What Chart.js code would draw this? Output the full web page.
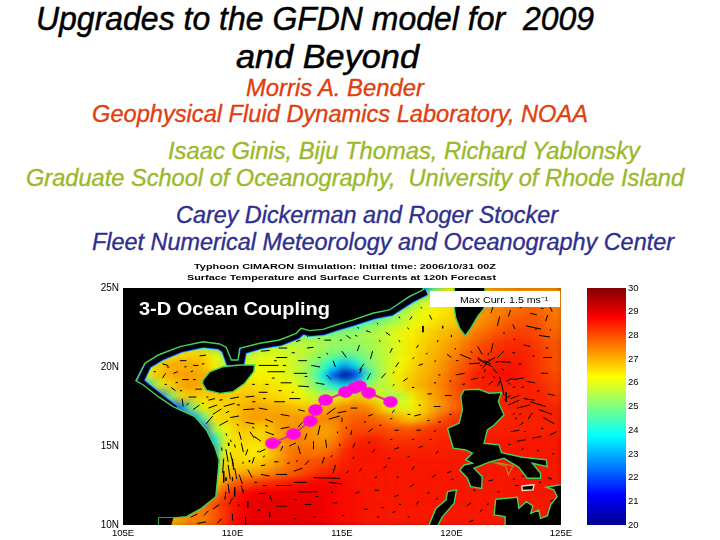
<!DOCTYPE html>
<html><head><meta charset="utf-8">
<script src="https://cdn.jsdelivr.net/npm/chart.js@4"></script>
<style>
html,body{margin:0;padding:0;background:#fff;width:720px;height:540px;overflow:hidden}
canvas{position:absolute}
.t{position:absolute;white-space:pre;line-height:1;transform-origin:0 0;font-family:"Liberation Sans",Arial,sans-serif}
#box{position:absolute;left:430px;top:291px;width:130px;height:16px;background:#fff}
</style></head><body>
<canvas id="map" width="490" height="270" style="left:85px;top:270px;width:490px;height:270px"></canvas>
<canvas id="bar" width="80" height="270" style="left:577px;top:270px;width:80px;height:270px"></canvas>
<div id="box"></div>
<script>
// text: [string, left, right, baseline, font px, weight, style, colour, stroke]
const slideText = [
 ["Upgrades to the GFDN model for  2009",36,594,30,34,"400","italic","#000",.5],
 ["and Beyond",236,419,68,34,"400","italic","#000",.5],
 ["Morris A. Bender",246,424,97,23.5,"400","italic","#e0400f",.35],
 ["Geophysical Fluid Dynamics Laboratory, NOAA",92,588,123,23.5,"400","italic","#e0400f",.35],
 ["Isaac Ginis, Biju Thomas, Richard Yablonsky",168,640,160,23.5,"400","italic","#9ab92a",.35],
 ["Graduate School of Oceanography,  University of Rhode Island",26,684,187,23.5,"400","italic","#9ab92a",.35],
 ["Carey Dickerman and Roger Stocker",176,558,224,23.5,"400","italic","#2f2f8f",.35],
 ["Fleet Numerical Meteorology and Oceanography Center",92,674,251,23.5,"400","italic","#2f2f8f",.35],
 ["Typhoon CIMARON Simulation: Initial time: 2006/10/31 00Z",194,496,270,8,"700","normal","#000",0],
 ["Surface Temperature and Surface Currents at 120h Forecast",187,496,281,8,"700","normal","#000",0],
 ["3-D Ocean Coupling",139,330,315,19,"700","normal","#fff",0],
 ["Max Curr. 1.5 ms\u207B\u00B9",460,548,304,9,"400","normal","#000",0]
];
const lonTicks=[105,110,115,120,125];
const latTicks=[10,15,20,25];
const tempTicks=[20,21,22,23,24,25,26,27,28,29,30];

// sea surface temperature, north to south, 0.5 deg columns from 105E
const sst00=[22,22,22,22,22,22,22,22,22,22,22,22,22,22,22,22,22,22,22,22,22,22,22,22,22,22,22,22.5,24.5,25.8,26.2,26.5,26.8,27,27.1,27.2,27.3,27.3,27.3,27.3];
const sst01=[22,22,22,22,22,22,22,22,22,22,22,22,22,22,22,22,22,22,22,22,22,22,22,22,22,22.5,24.5,25.6,26,26.3,26.4,26.8,27.1,27.3,27.4,27.5,27.6,27.6,27.5,27.4];
const sst02=[22,22,22,22,22,22,22,22,22,22,22,22,22,22,22,22,22,22,22,22,22,22,22,23,24.5,25.3,25.8,26.1,26.3,26.4,26.6,26.8,27.1,27.3,27.4,27.6,27.7,27.8,27.7,27.5];
const sst03=[22,22,22,22,22,22,22,22,22,22,22,22,22,22,22,22,22,22,22,22.5,23.5,24,24.6,25,25.3,25.6,26,26.2,26.4,26.6,26.7,26.9,27.2,27.4,27.6,27.8,27.9,27.9,27.8,27.6];
const sst04=[22,22,22,22,22,22,22,22,22,22,22,22,22,22,22,23.5,24.3,24.8,25,25,25.2,25.3,25.5,25.6,25.9,26.1,26.3,26.5,26.7,26.8,27,27.2,27.5,27.7,27.9,28,28.1,28,27.9,27.7];
const sst05=[22,22,22,22,25,25.5,25.5,24.5,23.5,22.5,22.5,23,24.5,25.1,25.5,25.7,25.7,25.6,25.5,25.3,25.3,25.3,25.4,25.6,25.8,26,26.4,26.6,26.8,27,27.2,27.5,27.8,28,28.2,28.3,28.3,28.2,28,27.9];
const sst06=[22,22,22,25,26.4,26.6,26.6,26.6,26.3,25.3,24.5,25.5,25.9,26,25.9,25.8,25.7,25.5,25.2,25,24.9,25,25.2,25.5,25.8,26.1,26.4,26.7,26.9,27.1,27.4,27.7,28,28.2,28.3,28.4,28.4,28.3,28.1,27.9];
const sst07=[22,22.5,25.5,26.7,27,27,27,26.8,26.3,25.7,25.6,25.9,26.1,26.2,26.1,25.9,25.6,25.1,24.6,23.8,23,23.9,25,25.4,25.8,26.2,26.5,26.8,27,27.3,27.6,27.9,28.2,28.4,28.5,28.5,28.5,28.3,28.1,27.9];
const sst08=[22,24.5,26.3,26.8,27,27.1,27.1,27,26.8,26.5,26.2,26.2,26.2,26.3,26.1,25.9,25.6,25,23.8,22,20,21.8,24,25.3,25.9,26.4,26.7,26.9,27.1,27.4,27.8,28.1,28.4,28.5,28.6,28.6,28.5,28.3,28.2,28];
const sst09=[22,22,23.5,26,26.6,27,27.2,26.9,26.8,26.7,26.6,26.6,26.5,26.5,26.4,26.2,25.9,25.3,24.6,24.1,23.5,24.4,25.3,25.6,25.7,26.4,26.8,27,27.2,27.5,27.9,28.2,28.4,28.4,28.4,28.4,28.4,28.4,28.3,28.1];
const sst10=[22,22,22,22,24.8,26.5,26.7,26.6,26.7,26.7,26.7,26.8,26.8,26.6,26.5,26.4,26.2,25.9,25.6,26,26.4,26.8,26.6,26,25.3,25.5,26.1,26.7,27.1,27.4,27.8,28.1,28.4,28.4,28.4,28.4,28.4,28.4,28.4,28.2];
const sst11=[22,22,22,22,22,22.5,25,26.3,26.6,26.6,26.7,27,27.1,27,27,26.9,26.8,26.7,26.9,27.2,27.4,27.5,27.4,26.9,26.2,26,26.1,26.6,27,27.3,27.7,28,28.3,28.4,28.4,28.4,28.4,28.4,28.4,28.4];
const sst12=[22,22,22,22,22,22,22.5,24.5,26.4,26.6,26.8,27.1,27.2,27.1,27.2,27.2,27.2,27.3,27.4,27.5,27.6,27.8,27.8,27.6,27.4,27,26.6,26.9,27.4,27.9,28.2,28.3,28.4,28.4,28.4,28.4,28.4,28.4,28.4,28.4];
const sst13=[22,22,22,22,22,22,22,22,25.5,26.2,26.6,26.8,26.6,26.7,27.1,27.3,27.3,27.2,27.1,27.2,27.8,28,28,28,27.9,27.9,27.9,28.1,28.2,28.3,28.4,28.4,28.4,28.4,28.4,28.4,28.4,28.4,28.4,28.4];
const sst14=[22,22,22,22,22,22,22,22,23.5,26,26.5,26.6,26.5,26.7,27.1,27.4,27.4,27.3,27.2,27.4,28,28.3,28.4,28.4,28.2,28.2,28.2,28.3,28.3,28.4,28.4,28.4,28.5,28.5,28.5,28.5,28.5,28.5,28.5,28.5];
const sst15=[22,22,22,22,22,22,22,22,23,26.2,26.5,26.4,26.3,26.6,27.1,27.5,27.6,27.5,27.5,27.8,28.3,28.5,28.5,28.5,28.4,28.4,28.4,28.4,28.4,28.4,28.4,28.5,28.5,28.5,28.5,28.5,28.5,28.5,28.5,28.5];
const sst16=[22,22,22,22,22,22,22,22,24,26.6,26.6,26.5,26.6,26.9,27.2,27.6,27.8,27.9,28,28.2,28.4,28.5,28.5,28.5,28.5,28.5,28.5,28.5,28.5,28.5,28.5,28.5,28.5,28.5,28.5,28.5,28.5,28.5,28.5,28.5];
const sst17=[22,22,22,22,22,22,22,22,25,26.8,26.9,27,27.1,27.3,27.5,27.7,27.9,28.1,28.3,28.4,28.5,28.5,28.5,28.5,28.5,28.5,28.5,28.5,28.5,28.5,28.5,28.5,28.5,28.5,28.5,28.5,28.5,28.5,28.5,28.5];
const sst18=[22,22,22,22,22,22,22,24,26,27.4,27.8,28,28.2,28.3,28.4,28.5,28.6,28.7,28.7,28.7,28.6,28.5,28.5,28.5,28.5,28.5,28.5,28.5,28.5,28.5,28.5,28.5,28.5,28.5,28.5,28.5,28.5,28.5,28.5,28.5];
const sst19=[22,22,22,22,22,22,24,26,27.5,28,28.5,28.7,28.8,28.8,28.8,28.8,28.8,28.8,28.8,28.7,28.6,28.6,28.5,28.5,28.5,28.5,28.5,28.5,28.5,28.5,28.5,28.5,28.5,28.5,28.5,28.5,28.5,28.5,28.5,28.5];
const sst20=[22,22,22,22,24,26,27,27.6,27.9,28.3,28.6,28.8,28.9,28.9,28.9,28.9,28.9,28.9,28.8,28.7,28.6,28.6,28.5,28.5,28.5,28.5,28.5,28.5,28.5,28.5,28.5,28.5,28.5,28.5,28.5,28.5,28.5,28.5,28.5,28.5];
const sst21=[22,22,22,24,27,27.2,27.5,27.5,27.8,28.2,28.6,28.8,28.9,28.9,28.9,28.9,28.9,28.9,28.8,28.7,28.6,28.6,28.5,28.5,28.5,28.5,28.5,28.5,28.5,28.5,28.5,28.5,28.5,28.5,28.5,28.5,28.5,28.5,28.5,28.5];
const sstRows=[sst00,sst01,sst02,sst03,sst04,sst05,sst06,sst07,sst08,sst09,sst10,sst11,sst12,sst13,sst14,sst15,sst16,sst17,sst18,sst19,sst20,sst21];

// land outlines, [lon, lat]
const coastMain=[[104,9.5],[106.64,9.5],[106.64,10.45],[107.3,10.45],[107.9,10.53],[108.58,11.05],[109.24,11.79],[109.34,13.27],[109.39,14.11],[109.19,14.96],[108.81,16.01],[108.28,16.86],[107.29,17.49],[106.61,18.12],[105.93,18.86],[105.59,19.13],[106,20.23],[106.61,20.76],[107.6,21.29],[108.66,21.6],[109.42,21.46],[109.72,21.24],[109.95,20.44],[110.25,20.44],[110.33,21.18],[111.24,21.5],[112.15,21.71],[112.91,22.13],[113.14,22.45],[113.52,22.3],[114.13,22.38],[114.73,22.66],[115.49,22.97],[116.4,23.4],[117.16,23.61],[118.07,24.45],[118.68,24.87],[118.95,25.5],[118.95,26],[104,26],[104,9.5]];
const coastCorner=[[106.64,9.5],[106.64,10.45],[107.3,10.45],[107.1,9.5],[106.64,9.5]];
const hainan=[[108.66,19.18],[108.96,19.7],[109.57,20.02],[110.33,20.13],[111.01,20.13],[110.97,19.7],[110.56,18.97],[110.03,18.44],[109.42,18.33],[108.81,18.54],[108.63,18.97],[108.66,19.18]];
const taiwan=[[120.13,25.5],[121.55,25.5],[121.49,23.71],[121.19,23.18],[120.88,22.44],[120.63,21.96],[120.38,22.44],[120.2,23.08],[120.13,23.71],[120.13,25.5]];
const luzon=[[120.58,18.55],[121.26,18.59],[121.72,18.34],[122.29,18.38],[122.14,17.81],[122.4,16.96],[121.95,16.33],[121.64,16.02],[121.49,15.17],[122.17,15.07],[122.29,14.58],[123.24,14.29],[124.33,14.12],[124.38,13.69],[123.69,13.91],[124.07,13.27],[124.07,12.96],[123.46,12.96],[123.08,13.65],[122.4,14.22],[121.79,14.01],[121.41,13.8],[121.03,13.59],[121.41,13.06],[121.38,12.32],[120.88,12.43],[120.73,12.96],[120.38,13.48],[120.58,13.8],[120.96,13.91],[120.65,14.12],[120.96,14.54],[120.65,14.75],[120.08,14.86],[119.82,16.12],[120.35,16.44],[120.5,17.28],[120.43,18.13],[120.58,18.55]];
const islet=[[123.21,12.47],[123.77,12.54],[123.72,12.22],[123.24,12.18],[123.21,12.47]];
const palawan=[[118.83,9.5],[119.29,11.05],[119.75,11.58],[119.82,12.11],[120.23,12.22],[120.12,11.37],[119.59,10.53],[119.21,9.5],[118.83,9.5]];
const visayas=[[122.02,11.63],[123.01,11.75],[123.08,11.06],[123.42,11.48],[123.72,11.21],[123.62,10.74],[123.99,10.95],[124.07,10.42],[124.38,10.57],[124.53,11.27],[124.83,11.8],[124.68,12.22],[124.33,12.39],[124.94,12.54],[125.6,12.54],[125.6,9.5],[122.48,9.5],[122.45,10.53],[121.95,10.64],[122.02,11.63]];
const olive=[[121.79,14.01],[122.48,13.74],[122.6,13.17],[122.81,13.74],[122.1,13.95]];
const coastFringe=[[107.4,17.35],[106.8,17.98],[106.1,18.75],[105.8,19.1],[106.15,20.12],[106.75,20.62],[107.65,21.14],[108.65,21.44],[109.4,21.32],[109.65,21.08],[109.85,20.3],[110.4,20.3],[110.5,21.04],[111.3,21.36],[112.2,21.56],[112.95,21.97],[113.2,22.28],[113.55,22.15],[114.15,22.23],[114.75,22.5],[115.5,22.81],[116.45,23.24],[117.25,23.45],[118.2,24.3],[118.85,24.75]];

// storm track
const trackLon=[111.82,112.79,113.55,113.79,114.25,115.16,115.57,115.8,116.22,117.22];
const trackLat=[15.17,15.76,16.58,17.28,17.91,18.42,18.67,18.8,18.37,17.8];

// current vectors: lon, lat, dlon, dlat
const currents=[
[106.8,20.2,.25,-.1],[107.6,20.4,.3,0],[108.5,20.7,.3,.05],[108.2,20.1,.25,0],[107.3,19.6,.2,.1],[106.8,19.3,.15,.3],[107.7,19.2,.3,0],[108.3,18.6,.3,0],[107.2,18.7,.2,-.2],[108,18.1,.35,0],[108.9,17.9,.3,.1],[107.7,18,.05,-.5],[108.9,17.4,.4,.2],[108.2,17.3,.3,.3],[109.6,17.5,.5,.2],[109.1,17,.4,.35],[108.8,16.4,.3,.5],[109.4,16.3,.4,.3],[109.9,16.8,.4,.1],[110.5,17.3,.5,.05],[110.6,16.5,.4,-.1],[109.9,18,.4,.1],[110.6,18.1,.4,.05],[111.2,18.4,.4,0],[111.6,19.7,.8,0],[111.2,20.1,.9,0],[112,20.6,.5,0],[111.3,21,.4,.05],[112.1,21.2,.4,0],[112.9,21.6,.2,.1],[113.4,21.2,.3,.05],[113,20.4,.4,0],[113.6,20.1,.4,-.1],[112.8,19.6,.6,0],[112.2,19,.5,0],[113,18.8,.5,-.05],[113.8,19,.4,-.1],[114.3,19.5,.2,-.3],[114.6,20.4,.1,-.4],[115,21,.2,-.4],[115.8,21.4,-.1,-.4],[116.4,21,-.1,-.5],[116,20.2,-.2,-.4],[116.3,19.6,-.15,-.4],[115.9,19.9,-.1,-.3],[114.2,21.7,.3,0],[115.2,22,.2,-.2],[116.1,22.3,.2,-.1],[117,22.2,.2,-.2],[117.3,21.2,-.1,-.3],[117.6,20.3,-.15,-.3],[117,19.6,-.2,-.3],[118,19.3,-.2,-.2],[118.7,20.2,-.2,-.1],[118.5,21.4,-.1,-.2],[118.7,22.6,0,-.4],[119,23.3,.1,-.3],[118.2,23.2,-.1,-.2],
[111.2,17.4,.4,-.1],[111.9,17.8,.5,0],[112.6,18,.5,0],[113,17.3,.3,-.1],[112.2,17,.4,-.1],[111.5,16.7,.35,-.2],[110.8,15.9,.2,-.4],[110.3,15.9,.1,-.5],[110.4,15.2,.1,-.6],[111,15.6,.3,-.3],[111.5,15.9,.4,-.2],[112.2,16.1,.4,.1],[113,16.2,.2,.3],[113.3,15.4,.1,.4],[113.9,15.7,.1,.6],[113.7,14.8,0,.5],[114.3,14.9,-.05,.5],[113.1,14.5,-.1,.5],[112.6,15,.3,.2],[112.2,14.7,.1,.3],[111.5,14.8,-.3,-.2],[111.9,14,.2,0],[111.5,13.8,-.2,-.05],[111,14.3,-.1,-.4],[110.7,14.8,-.1,-.4],[110.7,13.5,.2,-.5],[111.3,13.2,.4,-.1],[112,13.2,.5,0],[112.8,13.4,.4,.2],[113.3,13.8,.2,.3],[114.1,13.9,.1,.4],[114.6,13.3,.1,.5],
[109.7,14.8,.1,-.8],[109.9,14.6,.15,-.9],[109.6,14.2,-.05,-.9],[110,14.2,.05,-.7],[109.8,13.8,.1,-.9],[110.1,13.6,.1,-.7],[109.6,13.4,0,-.7],[110.3,13.2,.15,-.6],[109.8,12.6,.05,-.6],[110.1,12.4,0,-.6],[110.4,12.5,.1,-.5],[109.7,12.1,-.05,-.5],[110,11.7,-.15,-.4],[109.4,11.3,-.3,-.3],[108.9,10.9,-.2,-.3],[108.4,10.7,-.3,-.2],[108.8,10.2,-.4,-.1],[109.5,10.4,-.2,-.3],[110,10.7,0,-.4],[110.6,10.5,0,-.5],[110.7,11.5,0,-.4],[111.2,12,.3,0],[111.7,11.9,.1,-.4],[111.7,10.8,0,-.3],[112,12.5,.7,0],[113,12.1,.9,0],[112.8,12.7,.6,0],[113.7,13,1.2,-.05],[114.4,12.7,.6,-.1],[112,11.2,.5,0],[113.3,11.3,.3,0],[114.6,11.4,.2,0],[115.6,12,.2,.1],[116.5,12.2,.2,0],[117.4,11.8,.2,.1],[116,11,.2,0],[117.3,10.8,.15,.05],[118.4,11.3,.1,.2],[118.1,12.4,.2,.2],[119.1,13,.2,.2],[118.2,13.5,.1,.2],[116.9,13.6,.15,.15],[115.8,13.4,.1,.2],[116.4,14.6,.1,.2],[115.5,14.9,.1,.3],[117.4,14.8,.2,.1],[118.5,14.9,.2,.1],[119.3,14.5,.1,.2],[115.4,15.7,.05,.3],[116.2,15.9,.2,.2],[117.4,16,.2,0],[118.4,16,.2,0],[119.2,15.9,.1,.1],[115,16.5,0,.3],[114.7,17.4,-.4,-.4],[115.2,17.2,-.4,-.1],[114.9,16.9,-.5,-.2],[115.7,17.4,-.3,0],[116.2,16.9,.2,.1],[117.3,17.1,.1,.2],[118.3,16.9,.3,.1],[119.2,17.5,.3,0],[119.7,18.2,.3,0],[118.9,18.3,.2,0],
[121.6,20.2,-.4,.3],[121.5,20.4,.3,-.2],[121.2,20.6,.4,-.4],[121.9,20,-.3,.2],[122,20.6,-.4,-.3],[121.4,19.9,.2,.3],[120.8,20.2,.5,.05],[120.4,20.8,.5,-.3],[121.2,21.3,.2,-.5],[121.9,21.5,-.1,-.6],[122.4,21,-.3,-.4],[122.7,20.3,-.6,.05],[122.1,19.6,-.2,.3],[122.2,19.4,.1,-.6],[122.3,18.9,.1,-.7],[122.5,18.4,0,-.6],[122.1,18.8,.15,.4],[122.8,19.3,-.3,-.2],[123.3,19.3,-.5,-.1],[123.8,19,-.4,.1],[121.7,18.9,.2,.2],[120.9,19.2,.3,.1],[120.2,19.5,.4,.1],[119.8,20.8,.2,-.2],[122.4,17.9,.3,.3],[122.6,17.6,.5,.3],[123,17.4,.6,.2],[122.7,18,.4,.2],[123.3,18,.5,-.1],[123.6,17.8,.7,-.3],[124,17.3,.6,-.3],[124.2,16.8,.5,-.4],[123.5,16.7,.2,.4],[123.1,16.3,.2,.2],[122.7,15.9,.4,.1],[123.7,15.5,.4,.1],[124.5,15.7,.3,.2],[123,15.3,.4,.1],[124.4,18.3,.3,-.1],[124.1,19.6,.3,0],[124.2,20.6,.4,0],[123.3,21.4,.3,-.1],[124,22,.5,-.1],[123.4,22.6,.7,-.2],[122.9,22.4,-.1,.3],[124.3,22.9,.1,.4],[124.6,23.5,-.1,.3],[123.6,23.4,.3,-.1],[122.6,23.2,.1,.4],[122.1,22.6,.1,.6],[121.8,23.4,.1,.4],[123.2,13.1,.3,0],[124.4,13,.2,-.1],[124.5,11.5,.2,.1],[122.9,12.5,.2,0],[121.7,12.8,.2,.05],[119.8,13.3,.2,.1],[120.7,11.2,.2,.2],[121.3,10.8,.1,.2],[120.8,10.2,.2,.1]
];
// small current dashes
const currentDashes=[
[106.4,19.7,.1,0],[107,20,.12,0],[107.8,20,.1,.03],[108.6,20.2,.12,0],[108.1,19.7,.1,.05],[106.9,18.9,.1,0],[107.4,19,.1,.03],[108.2,19.2,.12,0],[107.6,18.5,.1,0],[108.8,18.1,.1,0],[109.4,17.9,.15,.03],[107.9,17.6,.1,.1],[108.6,17.7,.1,0],[109.7,17.1,.15,.1],[110.2,17.6,.15,0],[110.9,17.8,.15,0],[111.4,18,.12,0],[112.1,18.5,.15,0],[112.7,18.4,.1,0],[111.5,18.9,.15,0],[110.9,18.9,.12,0],[111.8,19.3,.12,0],[113.3,19.4,.12,0],[112.3,20.1,.15,0],[111.9,20.4,.12,0],[112.7,20.9,.15,0],[113.9,20.6,.12,0],[114.3,20.9,.05,-.12],[113.4,22,.05,-.1],[113.9,21.8,.1,0],[114.9,21.7,.1,0],[115.6,22,.1,-.05],[116.7,21.7,.05,-.1],[117.6,21.7,.05,-.12],[118,22.5,.05,-.12],[117.6,23.2,.05,-.12],[118.6,23.8,.05,-.1],[119.6,22.6,0,-.15],[119.4,21.7,-.05,-.12],[120,22,0,-.1],[120.2,21.2,-.05,-.1],[118.9,20.9,-.05,-.1],[118.3,20.6,-.08,-.08],[117.4,19.7,-.08,-.1],[119.4,19.5,.1,0],[119.9,19.1,.1,.03],[119.2,19,.1,0],[118.2,18.7,.1,0],[117.4,18.9,-.08,-.08],[118.5,17.6,.1,-.03],[118,17,.12,0],[117.2,16.7,.1,.05],[116.7,16.3,.1,.03],[116,16.5,.1,.05],[115.2,16.1,0,.12],[114.8,15.8,0,.12],[114.9,15,0,.15],[114.5,14.3,.05,.12],[112.9,14,.08,.1],[112.5,13.9,.12,.03],[111.2,14.7,-.08,-.08],[110.8,14.1,-.03,-.12],[110.5,14,-.03,-.12],[111.4,14.3,.08,.08],[112.1,15.2,.12,.05],[111.5,16.3,.12,-.05],[110.9,16.2,.1,-.08],[110.2,16.4,.08,-.12],[109.7,15.8,.05,-.15],[109.9,15.4,.05,-.15],[110.1,15.1,.03,-.2],[109.5,14.9,.03,-.2],[109.8,15.2,.03,-.2],[109.7,13,0,-.2],[110,13,0,-.2],[110.5,12.2,0,-.15],[111,12.7,.12,0],[111.4,12.5,.15,0],[111.2,11,0,-.12],[110.3,11.3,-.03,-.12],[112.8,11.6,.15,0],[113.8,11.8,.12,0],[114.5,12.1,.1,0],[115,10.6,.1,0],[113.7,10.5,.1,0],[112.8,10.4,.1,0],[115.2,13.3,.1,.1],[116.5,13,.1,.05],[117.5,13,.1,.05],[117.1,14.2,.1,.05],[118,14.3,.1,.05],[115.5,14.2,.05,.12],[116.2,15.2,.1,.05],[117.2,15.4,.1,.03],[118.2,15.4,.1,.03],[119,15.4,.1,.03],[119.4,16.5,.12,.03],[118.9,16.6,.1,.03],[119.9,17,.1,0],[120,12.9,.1,0],[118.9,12,.1,.05],[119.3,11.6,.05,.1],[117.6,11.3,.1,0],[116.8,11.1,.1,0],[116.6,10.5,.1,0],[118,10.5,.08,.03],[121,12.2,.1,0],[122.1,12.1,.1,0],[122.8,12.9,.1,0],[121.6,11.3,.1,.03],[124,12.7,.1,0],[124.6,14.5,.1,0],[123.9,14.7,.1,0],[123.2,14.8,.1,.03],[122.6,15.1,.1,0],[123.3,15.9,.1,.03],[124.1,16.1,.1,.03],[122.9,16.7,.1,.1],[123.1,17,.1,.05],[122.8,17,.1,.08],[123.9,18.5,.12,-.03],[122.8,18.7,.12,.05],[123.2,18.7,.12,.05],[122.6,19,.1,-.1],[122.4,19.8,-.1,.08],[121.9,19.4,.1,-.08],[121.4,19.3,.1,.08],[120.5,18.9,.12,.03],[120.2,20.4,.12,0],[120.9,21,.05,-.12],[121.7,20.9,-.03,-.15],[122.1,20.3,-.1,0],[121.8,20.4,-.1,.08],[121.3,20.1,.12,0],[121.5,19.7,.03,.15],[122.9,20.9,-.12,0],[123.2,20.2,-.12,0],[124.3,21.2,.12,0],[123.7,20.7,.1,0],[122.9,21.7,-.05,.1],[122.4,22.1,0,.12],[123.8,22.4,.1,0],[124.5,22.3,.03,.1],[122,24,.05,.12],[123.1,23.8,.1,-.03],[124.1,23.7,.1,0],[119.3,20.4,-.08,-.05],[116.6,22.8,.05,-.1],[115.7,22.5,.08,-.05]
];

function jet(v){
  const t=Math.max(0,Math.min(1,(v-20)/10));
  const st=[[0,0,0,143],[.125,0,0,255],[.375,0,255,255],[.625,255,255,0],[.875,255,0,0],[1,128,0,0]];
  for(let i=1;i<st.length;i++){ if(t<=st[i][0]){const a=st[i-1],b=st[i],f=(t-a[0])/(b[0]-a[0]);
    return `rgb(${a[1]+(b[1]-a[1])*f|0},${a[2]+(b[2]-a[2])*f|0},${a[3]+(b[3]-a[3])*f|0})`;}}
  return 'rgb(128,0,0)';
}

// slide text
for(const [s,l,r,base,px,w,st,c,sk] of slideText){
  const e=document.createElement('div');e.className='t';e.textContent=s;
  e.style.cssText=`left:${l}px;top:${base-px*0.8465}px;font-size:${px}px;font-weight:${w};font-style:${st};color:${c};z-index:5;-webkit-text-stroke:${sk}px ${c}`;
  document.body.appendChild(e);
  const m=e.getBoundingClientRect().width;
  e.style.transform=`scaleX(${(r-l)/m})`;
}

const xy=a=>a.map(p=>({x:p[0],y:p[1]}));
const heat=[];
sstRows.forEach((row,i)=>row.forEach((t,j)=>heat.push({x:105.25+j*0.5,y:25-(i+0.5)*15/22,t})));
const arrowPts=[];
currents.concat(currentDashes).forEach(([x,y,u,v])=>{arrowPts.push({x,y},{x:x+u,y:y+v},{x:NaN,y:NaN});});
const trackPts=trackLon.map((x,i)=>({x,y:trackLat[i]}));

const land=(d,order,border)=>({type:'scatter',data:xy(d),showLine:true,pointRadius:0,fill:'shape',backgroundColor:'#000',borderColor:border||'#45d05a',borderWidth:1.4,tension:0,order});

// ellipse marker
const dot=document.createElement('canvas');dot.width=15;dot.height=12;
{const g=dot.getContext('2d');g.fillStyle='#ff08e4';g.beginPath();g.ellipse(7.5,6,7.3,5.8,0,0,Math.PI*2);g.fill();}

const blackBack={id:'blackBack',beforeDatasetsDraw(c){const a=c.chartArea,g=c.ctx;g.save();g.fillStyle='#000';g.fillRect(a.left,a.top,a.width,a.height);g.restore();}};
const soften={id:'soften',
  beforeDatasetDraw(c,args){if(c.data.datasets[args.index].label==='sst'){c.ctx.save();c.ctx.filter='blur(4.5px)';}},
  afterDatasetDraw(c,args){if(c.data.datasets[args.index].label==='sst'){c.ctx.restore();}}};

new Chart(document.getElementById('map'),{
  type:'scatter',
  data:{datasets:[
    {label:'sst',data:heat,pointStyle:'rect',pointRadius:12,pointBorderWidth:0,showLine:false,
      pointBackgroundColor:c=>jet(c.raw?c.raw.t:26),order:20},
    {label:'fringeCyan',data:xy(coastFringe),showLine:true,pointRadius:0,borderColor:'#30c0e0',borderWidth:8,order:19},
    {label:'fringeBlue',data:xy(coastFringe),showLine:true,pointRadius:0,borderColor:'#0018c8',borderWidth:6.5,order:18},
    {label:'fringeBlack',data:xy(coastFringe),showLine:true,pointRadius:0,borderColor:'#000',borderWidth:5,order:17},
    {label:'currents',data:arrowPts,showLine:true,pointRadius:0,borderColor:'#000',borderWidth:1,spanGaps:false,order:16},
    Object.assign(land(coastMain,10),{label:'coast'}),
    Object.assign(land(coastCorner,9,'#000'),{label:'corner',borderWidth:0}),
    Object.assign(land(hainan,10),{label:'hainan'}),
    Object.assign(land(taiwan,10),{label:'taiwan'}),
    Object.assign(land(luzon,10),{label:'luzon'}),
    Object.assign(land(islet,10,'#f2e8c0'),{label:'islet'}),
    Object.assign(land(palawan,10),{label:'palawan'}),
    Object.assign(land(visayas,10),{label:'visayas'}),
    {label:'olive',data:xy(olive),showLine:true,pointRadius:0,borderColor:'#b08a20',borderWidth:1.2,order:8},
    {label:'track',data:trackPts,showLine:true,borderColor:'#e8309a',borderWidth:2,pointStyle:dot,pointRadius:7,order:1}
  ]},
  options:{
    animation:false,responsive:false,devicePixelRatio:1,
    layout:{padding:{left:0,right:13,top:18,bottom:0}},
    plugins:{legend:{display:false},tooltip:{enabled:false},title:{display:false}},
    scales:{
      x:{type:'linear',min:105,max:125,afterFit:s=>{s.height=15},grid:{display:false,drawTicks:false},border:{display:false},
        afterBuildTicks:s=>{s.ticks=lonTicks.map(v=>({value:v}))},
        ticks:{callback:v=>v+'E',color:'#000',padding:3,maxRotation:0,font:{family:'Liberation Sans',size:9.5},autoSkip:false}},
      y:{type:'linear',min:10,max:25,afterFit:s=>{s.width=38},grid:{display:false,drawTicks:false},border:{display:false},
        afterBuildTicks:s=>{s.ticks=latTicks.map(v=>({value:v}))},
        ticks:{callback:v=>v+'N',color:'#000',padding:4,font:{family:'Liberation Sans',size:10}}}
    }
  },
  plugins:[blackBack,soften]
});

new Chart(document.getElementById('bar'),{
  type:'bar',
  data:{labels:['SST'],datasets:[{data:[[20,30]],barPercentage:1,categoryPercentage:1,borderWidth:0,
    backgroundColor:c=>{
      const a=c.chart.chartArea; if(!a) return '#888';
      const g=c.chart.ctx.createLinearGradient(0,a.bottom,0,a.top);
      [[0,20],[.125,21.25],[.375,23.75],[.625,26.25],[.875,28.75],[1,30]].forEach(([p,v])=>g.addColorStop(p,jet(v)));
      return g;}}]},
  options:{animation:false,responsive:false,devicePixelRatio:1,
    layout:{padding:{left:10,right:0,top:18,bottom:15}},
    plugins:{legend:{display:false},tooltip:{enabled:false}},
    scales:{
      x:{display:false},
      y:{position:'right',type:'linear',min:20,max:30,afterFit:s=>{s.width=31},border:{display:false},
        grid:{drawOnChartArea:false,drawTicks:false},
        afterBuildTicks:s=>{s.ticks=tempTicks.map(v=>({value:v}))},
        ticks:{color:'#000',padding:2,font:{family:'Liberation Sans',size:9.5}}}
    }}
});
</script></body></html>
